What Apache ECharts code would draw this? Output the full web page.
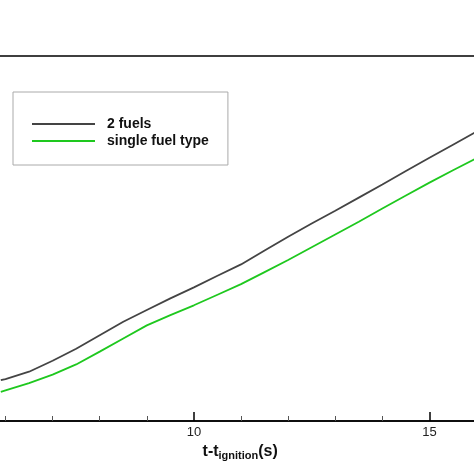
<!DOCTYPE html>
<html>
<head>
<meta charset="utf-8">
<script src="https://cdn.jsdelivr.net/npm/echarts@6/dist/echarts.min.js"></script>
<style>html,body{margin:0;padding:0;background:#fff}#c{width:474px;height:474px}</style>
</head>
<body>
<div id="c"></div>
<script>
var times = [5.9,6.0,6.5,7.0,7.5,8.0,8.5,9.0,9.5,10.0,10.5,11.0,11.5,12.0,12.5,13.0,13.5,14.0,14.5,15.0,15.5,16.0];
var twoFuels = [11.2,11.5,13.5,16.5,19.8,23.5,27.2,30.4,33.6,36.6,39.8,42.9,46.7,50.5,54.1,57.6,61.2,64.8,68.5,72.1,75.7,79.3];
var singleFuel = [8.0,8.4,10.4,12.7,15.5,19.0,22.6,26.2,29.0,31.7,34.6,37.5,40.8,44.1,47.6,51.1,54.6,58.2,61.8,65.3,68.7,72.0];
var seriesNames = ['2 fuels','single fuel type'];

function pairs(xs, ys){ return xs.map(function(x,i){ return [x, ys[i]]; }); }

var chart = echarts.init(document.getElementById('c'));
chart.setOption({
  backgroundColor:'#fff',
  animation:false,
  grid:{left:-41.6, right:-191, top:56, bottom:53, show:true, borderColor:'#000', borderWidth:1.6, backgroundColor:'transparent', outerBoundsMode:'none', containLabel:false},
  legend:{
    orient:'vertical', left:13, top:92,
    padding:[25,19,17,19],
    borderColor:'#aaa', borderWidth:1, backgroundColor:'#fff',
    icon:'rect', itemWidth:63, itemHeight:2, itemGap:3,
    textStyle:{fontFamily:'Liberation Sans, Arial', fontWeight:'bold', fontSize:14, lineHeight:14, color:'#111', padding:[0,0,0,7]},
    data:seriesNames
  },
  xAxis:{
    type:'value', min:5, max:20, interval:5,
    axisLine:{show:true, lineStyle:{color:'#000', width:1.6}},
    axisTick:{show:true, inside:true, length:9, lineStyle:{color:'#000', width:1.5}},
    minorTick:{show:true, splitNumber:5, length:5, lineStyle:{color:'#555', width:1}},
    splitLine:{show:false},
    axisLabel:{color:'#222', fontFamily:'Liberation Sans, Arial', fontSize:13, margin:5},
    name:'{a|t-t}{b|ignition}{a|(s)}',
    nameLocation:'middle', nameGap:18,
    nameTextStyle:{
      padding:[0,143,0,0],
      rich:{
        a:{fontFamily:'Liberation Sans, Arial', fontWeight:'bold', fontSize:16, color:'#111'},
        b:{fontFamily:'Liberation Sans, Arial', fontWeight:'bold', fontSize:11, color:'#111', padding:[8,0,0,0]}
      }
    }
  },
  yAxis:{type:'value', min:0, max:100, show:false, splitLine:{show:false}},
  series:[
    {name:seriesNames[0], type:'line', symbol:'none', data:pairs(times,twoFuels), lineStyle:{color:'#444', width:1.8}, itemStyle:{color:'#444'}},
    {name:seriesNames[1], type:'line', symbol:'none', data:pairs(times,singleFuel), lineStyle:{color:'#1ec81e', width:1.8}, itemStyle:{color:'#1ec81e'}}
  ]
});
</script>
</body>
</html>
